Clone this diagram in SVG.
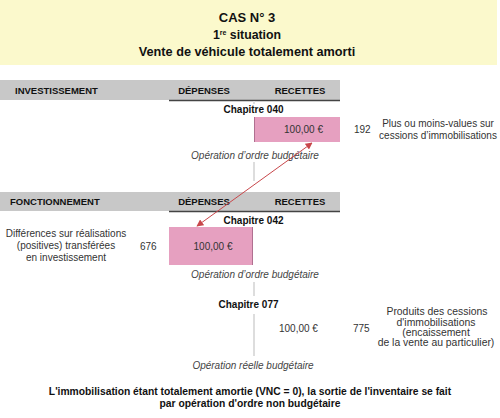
<svg xmlns="http://www.w3.org/2000/svg" width="500" height="418" viewBox="0 0 500 418">
<defs>
<marker id="ah" viewBox="0 0 10 10" refX="9" refY="5" markerWidth="7" markerHeight="7" orient="auto-start-reverse" markerUnits="userSpaceOnUse"><path d="M0,0 L10,5 L0,10 z" fill="#C8474B"/></marker>
</defs>
<style>
text{font-family:"Liberation Sans",Arial,sans-serif;fill:#111}
.t{font-weight:bold;text-anchor:middle}
.h{font-weight:bold;font-size:9.5px}
.ch{font-weight:bold;font-size:10px;text-anchor:middle}
.n{font-size:10px;fill:#333}
.op{font-size:10px;font-style:italic;fill:#444;text-anchor:middle}
.d{font-size:10px;fill:#333;text-anchor:middle}
.bar{fill:#C8C8C8}
.ul{stroke:#444;stroke-width:1.5}
.vl{stroke:#DDDDDD;stroke-width:2}
.pink{fill:#E6A0C0}
.b{font-weight:bold;font-size:10.3px;text-anchor:middle}
</style>
<rect x="0" y="0" width="497" height="65" fill="#FBF9CC"/>
<g id="title">
<text class="t" x="247" y="22" font-size="13">CAS N° 3</text>
<text class="t" x="247" y="39" font-size="12.3">1<tspan font-size="7" dy="-4">re</tspan><tspan dy="4"> situation</tspan></text>
<text class="t" x="247" y="56" font-size="12.7">Vente de véhicule totalement amorti</text>
</g>
<g id="investissement-header">
<rect class="bar" x="0" y="80" width="340" height="20"/>
<line class="ul" x1="169" y1="100.5" x2="340" y2="100.5"/>
<text class="h" x="15" y="94">INVESTISSEMENT</text>
<text class="h" x="204" y="94" text-anchor="middle">DÉPENSES</text>
<text class="h" x="300" y="94" text-anchor="middle">RECETTES</text>
</g>
<g id="vlines">
<line class="vl" x1="254" y1="101" x2="254" y2="104"/>
<line class="vl" x1="254" y1="162" x2="254" y2="181"/>
<line class="vl" x1="254" y1="282" x2="254" y2="296"/>
<line class="vl" x1="254" y1="314" x2="254" y2="356"/>
</g>
<g id="chapitre-040">
<text class="ch" x="253.5" y="113">Chapitre 040</text>
<rect class="pink" x="254" y="117" width="86" height="25"/>
<line x1="254.5" y1="117" x2="254.5" y2="142" stroke="#B07090" stroke-width="1"/>
<text class="n" x="323" y="133" text-anchor="end">100,00 €</text>
<text class="n" x="354" y="133">192</text>
<text class="d" x="438" y="127">Plus ou moins-values sur</text>
<text class="d" x="438" y="139">cessions d’immobilisations</text>
<text class="op" x="255" y="159">Opération d’ordre budgétaire</text>
</g>
<g id="fonctionnement-header">
<rect class="bar" x="0" y="192" width="340" height="19"/>
<line class="ul" x1="169" y1="211.5" x2="340" y2="211.5"/>
<text class="h" x="10" y="205">FONCTIONNEMENT</text>
<text class="h" x="204" y="205" text-anchor="middle">DÉPENSES</text>
<text class="h" x="300" y="205" text-anchor="middle">RECETTES</text>
</g>
<g id="chapitre-042">
<text class="ch" x="253.5" y="224">Chapitre 042</text>
<rect class="pink" x="169" y="227" width="84" height="38"/>
<line x1="252.5" y1="227" x2="252.5" y2="265" stroke="#B07090" stroke-width="1"/>
<text class="n" x="213" y="250" text-anchor="middle">100,00 €</text>
<text class="n" x="140" y="250">676</text>
<text class="d" x="66" y="237">Différences sur réalisations</text>
<text class="d" x="66" y="249">(positives) transférées</text>
<text class="d" x="66" y="261">en investissement</text>
<text class="op" x="255" y="278">Opération d’ordre budgétaire</text>
</g>
<g id="chapitre-077">
<text class="ch" x="248.5" y="308">Chapitre 077</text>
<text class="n" x="279" y="332">100,00 €</text>
<text class="n" x="353" y="332">775</text>
<g font-size="10.4">
<text class="d" x="437" y="315" style="font-size:10.4px">Produits des cessions</text>
<text class="d" x="436" y="325.5" style="font-size:10.4px">d'immobilisations</text>
<text class="d" x="436" y="336" style="font-size:10.4px">(encaissement</text>
<text class="d" x="436" y="346" style="font-size:10.4px">de la vente au particulier)</text>
</g>
<text class="op" x="253" y="369">Opération réelle budgétaire</text>
</g>
<g id="connectors">
<line x1="312" y1="143" x2="197" y2="226" stroke="#C8474B" stroke-width="1" marker-start="url(#ah)" marker-end="url(#ah)"/>
</g>
<g id="note">
<text class="b" x="250" y="395">L'immobilisation étant totalement amortie (VNC = 0), la sortie de l'inventaire se fait</text>
<text class="b" x="250" y="407">par opération d'ordre non budgétaire</text>
</g>
</svg>
